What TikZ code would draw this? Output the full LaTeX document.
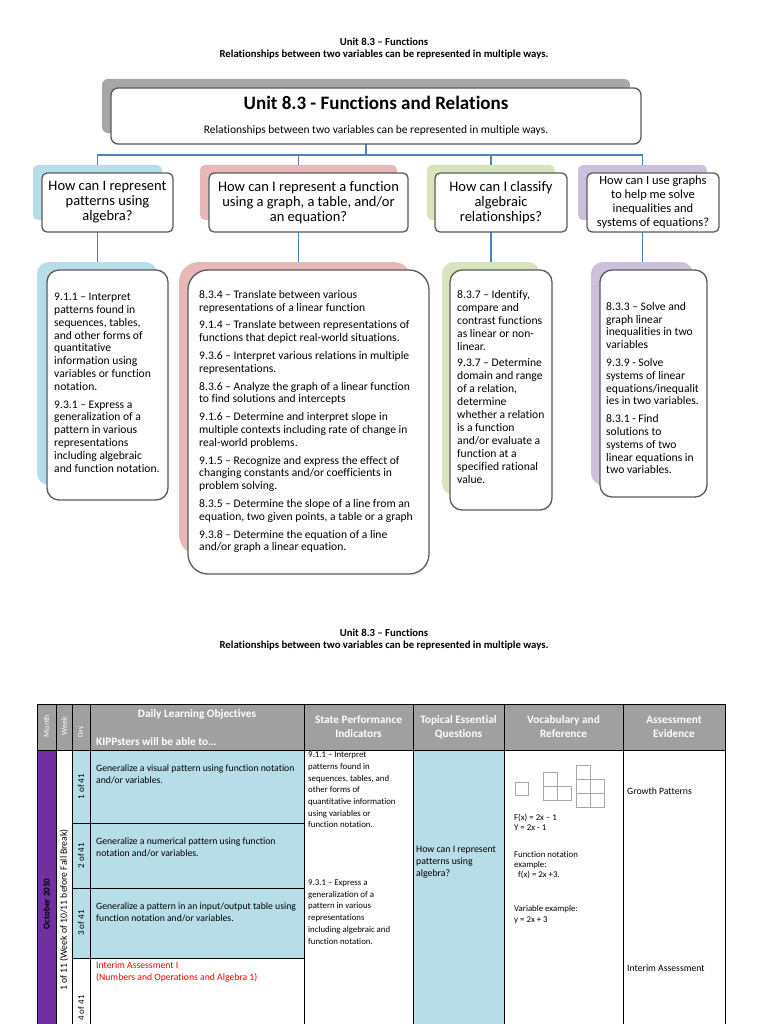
\documentclass[tikz,border=0pt]{standalone}
\usepackage{fontspec}
\setmainfont{Carlito}[Ligatures=CommonOff]
\definecolor{shgray}{HTML}{A6A6A6}
\definecolor{shblue}{HTML}{B7DDE8}
\definecolor{shpink}{HTML}{E6B9B8}
\definecolor{shgreen}{HTML}{D7E4BD}
\definecolor{shpurple}{HTML}{CCC1DA}
\definecolor{boxline}{HTML}{5A5A5A}
\definecolor{connblue}{HTML}{4F81BD}
\definecolor{hdrgray}{HTML}{A0A0A0}
\definecolor{monthpurple}{HTML}{7030A0}
\definecolor{cellblue}{HTML}{B7DDE8}
\definecolor{sqgray}{HTML}{A8A8A8}
\definecolor{redtxt}{HTML}{FF0000}
\begin{document}
\begin{tikzpicture}[x=1pt,y=-1pt,
  rect/.style={anchor=north west,inner sep=0pt,outer sep=0pt},
  shadowbox/.style={rect,draw=none,fill=#1},
  qbox/.style={rect,draw=boxline,line width=1.3pt,fill=white,rounded corners=5pt,align=center,
     font=\fontsize{14.5}{15}\selectfont},
  cbox/.style={rect,draw=boxline,line width=1.3pt,fill=white},
  ctext/.style={anchor=north west,inner sep=0pt,align=left,font=\fontsize{11.6}{12.8}\selectfont},
  conn/.style={draw=connblue,line width=1.4pt},
  hdrtxt/.style={text=white,font=\bfseries\fontsize{11.3}{14}\selectfont,align=center,inner sep=0pt},
  rothdr/.style={text=white,font=\fontsize{8}{9}\selectfont,rotate=90,inner sep=0pt},
  cell/.style={anchor=west,inner sep=0pt,align=left,font=\fontsize{9.7}{12.5}\selectfont},
  titletxt/.style={font=\bfseries\fontsize{10.7}{12}\selectfont,inner sep=0pt},
  tline/.style={draw=black,line width=0.7pt},
  sq/.style={draw=sqgray,line width=0.7pt}
]
\useasboundingbox (0,0) rectangle (768,1024);
\clip (0,0) rectangle (768,1024);
\fill[white] (0,0) rectangle (768,1024);

% ---------- page title ----------
\node[titletxt] (t1a) at (384,42) {Unit 8.3 – Functions};
\node[titletxt] (t1b) at (384,55) {Relationships between two variables can be represented in multiple ways.};

% ---------- shadows ----------
\node[shadowbox=shgray,rounded corners=6pt,minimum width=528pt,minimum height=54pt] (ms) at (102,79) {};
\node[shadowbox=shblue,rounded corners=5pt,minimum width=129pt,minimum height=55pt] (qs1) at (33,165) {};
\node[shadowbox=shpink,rounded corners=5pt,minimum width=197pt,minimum height=55pt] (qs2) at (200,165) {};
\node[shadowbox=shgreen,rounded corners=5pt,minimum width=128pt,minimum height=55pt] (qs3) at (427,165) {};
\node[shadowbox=shpurple,rounded corners=5pt,minimum width=129pt,minimum height=55pt] (qs4) at (578,165) {};
\node[shadowbox=shblue,rounded corners=12pt,minimum width=120pt,minimum height=223pt] (cs1) at (37,262) {};
\node[shadowbox=shpink,rounded corners=20pt,minimum width=234pt,minimum height=293pt] (cs2) at (179,262) {};
\node[shadowbox=shgreen,rounded corners=12pt,minimum width=98pt,minimum height=233pt] (cs3) at (442,262) {};
\node[shadowbox=shpurple,rounded corners=12pt,minimum width=102pt,minimum height=223pt] (cs4) at (591,262) {};

% ---------- connectors ----------
\coordinate (bus) at (366,155);
\draw[conn] (ms.south) -- (bus);
\draw[conn] (qs1.north) |- (bus) -| (qs4.north);
\draw[conn] (qs2.north) -- (qs2.north |- bus);
\draw[conn] (qs3.north) -- (qs3.north |- bus);
\draw[conn] (qs1.south) -- (qs1.south |- cs1.north);
\draw[conn] (qs2.south) -- (qs2.south |- cs2.north);
\draw[conn] (qs3.south) -- (qs3.south |- cs3.north);
\draw[conn] (qs4.south) -- (qs4.south |- cs4.north);

% ---------- main box ----------
\node[rect,draw=boxline,line width=1.3pt,fill=white,rounded corners=7pt,minimum width=530pt,minimum height=56pt] (mb) at (111,88) {};
\node[font=\bfseries\fontsize{19}{22}\selectfont,inner sep=0pt] (mtitle) at (376,103) {Unit 8.3 - Functions and Relations};
\node[font=\fontsize{11.5}{13}\selectfont,inner sep=0pt] (msub) at (376,130) {Relationships between two variables can be represented in multiple ways.};

% ---------- question boxes ----------
\node[qbox,minimum width=131pt,minimum height=59pt] (q1) at (42,173) {How can I represent\\patterns using\\algebra?};
\node[qbox,minimum width=199pt,minimum height=59pt] (q2) at (209,173) {How can I represent a function\\using a graph, a table, and/or\\an equation?};
\node[qbox,minimum width=132pt,minimum height=59pt] (q3) at (435,173) {How can I classify\\algebraic\\relationships?};
\node[qbox,minimum width=132pt,minimum height=59pt,font=\fontsize{12.5}{14}\selectfont] (q4) at (587,173) {How can I use graphs\\to help me solve\\inequalities and\\systems of equations?};

% ---------- content boxes ----------
\node[cbox,rounded corners=12pt,minimum width=121pt,minimum height=230pt] (c1) at (47,270) {};
\node[cbox,rounded corners=20pt,minimum width=241pt,minimum height=304pt] (c2) at (188,270) {};
\node[cbox,rounded corners=12pt,minimum width=102pt,minimum height=240pt] (c3) at (450,270) {};
\node[cbox,rounded corners=12pt,minimum width=107pt,minimum height=227pt] (c4) at (600,270) {};

\node[ctext] (c1t) at (54,293) {9.1.1 – Interpret\\patterns found in\\sequences, tables,\\and other forms of\\quantitative\\information using\\variables or function\\notation.\\[5pt]9.3.1 – Express a\\generalization of a\\pattern in various\\representations\\including algebraic\\and function notation.};
\node[ctext] (c2t) at (199,290) {8.3.4 – Translate between various\\representations of a linear function\\[5pt]9.1.4 – Translate between representations of\\functions that depict real-world situations.\\[5pt]9.3.6 – Interpret various relations in multiple\\representations.\\[5pt]8.3.6 – Analyze the graph of a linear function\\to find solutions and intercepts\\[5pt]9.1.6 – Determine and interpret slope in\\multiple contexts including rate of change in\\real-world problems.\\[5pt]9.1.5 – Recognize and express the effect of\\changing constants and/or coefficients in\\problem solving.\\[5pt]8.3.5 – Determine the slope of a line from an\\equation, two given points, a table or a graph\\[5pt]9.3.8 – Determine the equation of a line\\and/or graph a linear equation.};
\node[ctext,font=\fontsize{11.6}{13}\selectfont] (c3t) at (457,290) {8.3.7 – Identify,\\compare and\\contrast functions\\as linear or non-\\linear.\\[3pt]9.3.7 – Determine\\domain and range\\of a relation,\\determine\\whether a relation\\is a function\\and/or evaluate a\\function at a\\specified rational\\value.};
\node[ctext] (c4t) at (606,302) {8.3.3 – Solve and\\graph linear\\inequalities in two\\variables\\[5pt]9.3.9 - Solve\\systems of linear\\equations/inequalit\\ies in two variables.\\[5pt]8.3.1 - Find\\solutions to\\systems of two\\linear equations in\\two variables.};

% ---------- second title ----------
\node[titletxt] (t2a) at (384,633) {Unit 8.3 – Functions};
\node[titletxt] (t2b) at (384,646) {Relationships between two variables can be represented in multiple ways.};

% ---------- table ----------
\fill[hdrgray] (37,704) rectangle (725,750);
\fill[monthpurple] (37,750) rectangle (56,1062);
\fill[cellblue] (72,750) rectangle (304,958);
\fill[cellblue] (413,750) rectangle (504,1062);
\draw[tline] (37,704) rectangle (725,1062);
\foreach \cx in {56,72,90,304,413,504,623} {\draw[tline] (\cx,704) -- (\cx,1062);}
\draw[tline] (37,750) -- (725,750);
\foreach \ry in {823,888,958} {\draw[tline] (72,\ry) -- (304,\ry);}
\draw[tline] (72,888.8) -- (304,888.8);

% header texts
\node[rothdr] (hmonth) at (46.5,726) {Month};
\node[rothdr] (hweek) at (64,726) {Week};
\node[rothdr,font=\fontsize{7}{8}\selectfont] (hday) at (81,732) {Day};
\node[hdrtxt] (hdlo) at (197,714) {Daily Learning Objectives};
\node[hdrtxt,anchor=west] (hkipp) at (96,742) {KIPPsters will be able to…};
\node[hdrtxt] (hspi) at (358.5,727) {State Performance\\Indicators};
\node[hdrtxt] (hteq) at (458.5,727) {Topical Essential\\Questions};
\node[hdrtxt] (hvoc) at (563.5,727) {Vocabulary and\\Reference};
\node[hdrtxt] (hass) at (674,727) {Assessment\\Evidence};

% left rotated labels
\node[rotate=90,inner sep=0pt,font=\bfseries\fontsize{9}{10}\selectfont] (month) at (46.5,904) {October 2010};
\node[rotate=90,inner sep=0pt,font=\fontsize{9.7}{11}\selectfont] (week) at (64,910) {1 of 11 (Week of 10/11 before Fall Break)};
\node[rotate=90,inner sep=0pt,font=\fontsize{9}{10}\selectfont] (d1) at (81,786.5) {1 of 41};
\node[rotate=90,inner sep=0pt,font=\fontsize{9}{10}\selectfont] (d2) at (81,855.5) {2 of 41};
\node[rotate=90,inner sep=0pt,font=\fontsize{9}{10}\selectfont] (d3) at (81,923) {3 of 41};
\node[rotate=90,inner sep=0pt,font=\fontsize{9}{10}\selectfont] (d4) at (81,1008) {4 of 41};

% daily objectives
\node[cell] (o1) at (96,774.5) {Generalize a visual pattern using function notation\\and/or variables.};
\node[cell] (o2) at (96,847.5) {Generalize a numerical pattern using function\\notation and/or variables.};
\node[cell] (o3) at (96,912.5) {Generalize a pattern in an input/output table using\\function notation and/or variables.};
\node[cell,text=redtxt,font=\fontsize{9.7}{12}\selectfont] (o4) at (96,971.5) {Interim Assessment I\\(Numbers and Operations and Algebra 1)};

% SPI
\node[cell,font=\fontsize{8.8}{11.7}\selectfont] (spi1) at (308,790) {9.1.1 – Interpret\\patterns found in\\sequences, tables, and\\other forms of\\quantitative information\\using variables or\\function notation.};
\node[cell,font=\fontsize{8.8}{11.7}\selectfont] (spi2) at (308,912) {9.3.1 – Express a\\generalization of a\\pattern in various\\representations\\including algebraic and\\function notation.};

% topical
\node[cell,font=\fontsize{9.8}{12}\selectfont] (teq) at (416,862) {How can I represent\\patterns using\\algebra?};

% vocabulary squares
\draw[sq] (515,782) rectangle (528,795);
\draw[sq] (543,772) rectangle (557,786);
\draw[sq] (543,786) rectangle (557,800);
\draw[sq] (557,786) rectangle (571,800);
\draw[sq] (576,765) rectangle (590,779);
\draw[sq] (576,779) rectangle (590,793);
\draw[sq] (590,779) rectangle (604,793);
\draw[sq] (576,793) rectangle (590,807);
\draw[sq] (590,793) rectangle (604,807);

\node[cell,font=\fontsize{8.8}{9.5}\selectfont] (v1) at (514,822.5) {F(x) = 2x – 1\\Y = 2x - 1};
\node[cell,font=\fontsize{8.8}{10}\selectfont] (v2) at (514,865) {Function notation\\example:\\\hspace*{4pt}f(x) = 2x +3.};
\node[cell,font=\fontsize{8.8}{11}\selectfont] (v3) at (514,915) {Variable example:\\y = 2x + 3};

% assessment
\node[cell] (a1) at (627,791) {Growth Patterns};
\node[cell] (a2) at (627,968) {Interim Assessment};
\end{tikzpicture}
\end{document}
